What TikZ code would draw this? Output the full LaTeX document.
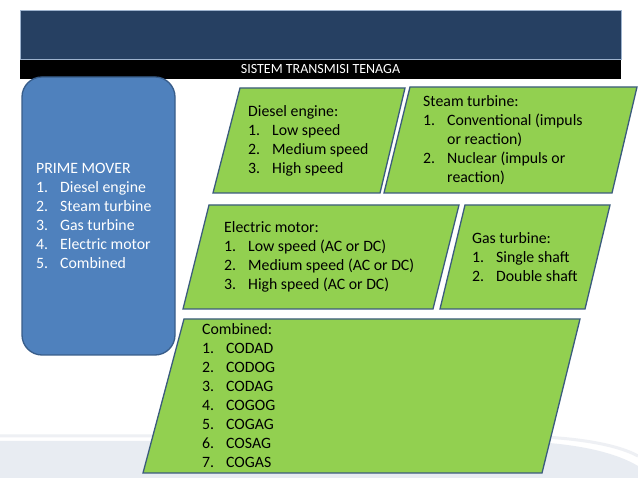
\documentclass[tikz,border=0pt]{standalone}
\usepackage{fontspec}
\setmainfont{Carlito}
\definecolor{navy}{HTML}{264062}
\definecolor{navyedge}{HTML}{9DB3CE}
\definecolor{pmblue}{HTML}{4F81BD}
\definecolor{pmedge}{HTML}{385D8A}
\definecolor{boxgreen}{HTML}{92D050}
\definecolor{greenedge}{HTML}{3B5B7D}
\definecolor{swoosh}{HTML}{E8ECF2}
\definecolor{swooshline}{HTML}{EEF0F4}
\newcommand\itm[2]{\makebox[24pt][l]{#1}#2}
\begin{document}
\begin{tikzpicture}[x=1pt,y=-1pt,
  greenbox/.style={fill=boxgreen,draw=greenedge,line width=1.3pt,line join=miter},
  bluebox/.style={fill=pmblue,draw=pmedge,line width=1.3pt,rounded corners=20pt},
  txt/.style={anchor=west,align=left,inner sep=0pt,font=\fontsize{15.8}{19}\selectfont},
  titletxt/.style={inner sep=0pt,text=white,font=\fontsize{14}{16}\selectfont}]
\useasboundingbox[fill=white] (0,0) rectangle (638,478);
% faint background swoosh
\draw[swooshline,line width=3pt] (0,436) -- (505,436) .. controls (580,436) and (620,446) .. (638,456);
\fill[swoosh] (0,441) -- (500,441) .. controls (578,441) and (618,454) .. (638,466) -- (638,478) -- (0,478) -- cycle;
% header
\draw[fill=navy,draw=navyedge,line width=0.8pt] (20,10) rectangle (621,59);
\fill[black] (20,60) rectangle (621,79);
\node[titletxt] (title) at (320.5,69.5) {SISTEM TRANSMISI TENAGA};
% green parallelograms
\draw[greenbox] (184,319) -- (580,319) -- (542,473) -- (143,473) -- cycle;
\draw[greenbox] (240,88) -- (405,88) -- (380,193) -- (213,193) -- cycle;
\draw[greenbox] (410,87) -- (637,87) -- (612,193) -- (384,193) -- cycle;
\draw[greenbox] (209,205) -- (459,205) -- (433,309) -- (183,309) -- cycle;
\draw[greenbox] (465,205) -- (610,205) -- (585,309) -- (440,309) -- cycle;
% prime mover box
\draw[bluebox] (22,77) rectangle (175,355);
% texts
\node[txt,text=white] (pm) at (36,216) {PRIME MOVER\\\itm{1.}{Diesel engine}\\\itm{2.}{Steam turbine}\\\itm{3.}{Gas turbine}\\\itm{4.}{Electric motor}\\\itm{5.}{Combined}};
\node[txt] (diesel) at (248,141) {Diesel engine:\\\itm{1.}{Low speed}\\\itm{2.}{Medium speed}\\\itm{3.}{High speed}};
\node[txt] (steam) at (423,140) {Steam turbine:\\\itm{1.}{Conventional (impuls}\\\itm{}{or reaction)}\\\itm{2.}{Nuclear (impuls or}\\\itm{}{reaction)}};
\node[txt] (electric) at (224,257) {Electric motor:\\\itm{1.}{Low speed (AC or DC)}\\\itm{2.}{Medium speed (AC or DC)}\\\itm{3.}{High speed (AC or DC)}};
\node[txt] (gas) at (472,257) {Gas turbine:\\\itm{1.}{Single shaft}\\\itm{2.}{Double shaft}};
\node[txt] (combined) at (202,396) {Combined:\\\itm{1.}{CODAD}\\\itm{2.}{CODOG}\\\itm{3.}{CODAG}\\\itm{4.}{COGOG}\\\itm{5.}{COGAG}\\\itm{6.}{COSAG}\\\itm{7.}{COGAS}};
\end{tikzpicture}
\end{document}
